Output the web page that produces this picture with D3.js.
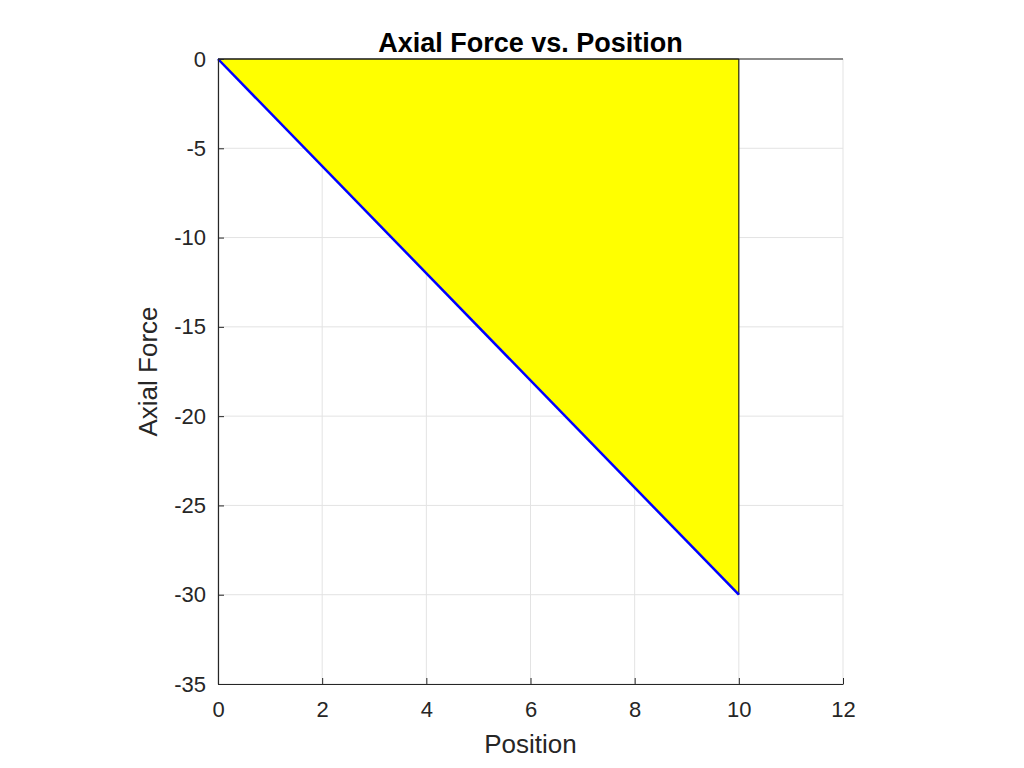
<!DOCTYPE html>
<html>
<head>
<meta charset="utf-8">
<script src="https://cdn.jsdelivr.net/npm/d3@7"></script>
<style>
  body { margin: 0; background: #fff; }
  svg text { font-family: "Liberation Sans", Arial, Helvetica, sans-serif; fill: #262626; }
  .tick-label { font-size: 22px; }
  .axis-title { font-size: 26px; }
  .chart-title { font-size: 27px; font-weight: bold; fill: #000; }
</style>
</head>
<body>
<div id="wrapper"></div>
<script>
// data
const position = [0, 10]
const axialForce = [0, -30]
const xTicks = [0, 2, 4, 6, 8, 10, 12]
const yTicks = [0, -5, -10, -15, -20, -25, -30, -35]

const dimensions = {
  width: 1024,
  height: 768,
  margin: { top: 59, right: 181, bottom: 84, left: 218 },
}
dimensions.boundedWidth = dimensions.width - dimensions.margin.left - dimensions.margin.right
dimensions.boundedHeight = dimensions.height - dimensions.margin.top - dimensions.margin.bottom

const svg = d3.select("#wrapper").append("svg")
    .attr("width", dimensions.width)
    .attr("height", dimensions.height)

const bounds = svg.append("g")
    .attr("transform", `translate(${dimensions.margin.left},${dimensions.margin.top})`)

const xScale = d3.scaleLinear()
  .domain([0, 12])
  .range([0, dimensions.boundedWidth])

const yScale = d3.scaleLinear()
  .domain([-35, 0])
  .range([dimensions.boundedHeight, 0])

// grid
bounds.append("g").selectAll("line")
  .data(xTicks)
  .join("line")
    .attr("x1", d => xScale(d)).attr("x2", d => xScale(d))
    .attr("y1", 0).attr("y2", dimensions.boundedHeight)
    .attr("stroke", "#e3e3e3").attr("stroke-width", 1)
bounds.append("g").selectAll("line")
  .data(yTicks)
  .join("line")
    .attr("y1", d => yScale(d)).attr("y2", d => yScale(d))
    .attr("x1", 0).attr("x2", dimensions.boundedWidth)
    .attr("stroke", "#e3e3e3").attr("stroke-width", 1)

// filled area between zero and the force line
const pts = position.map((p, i) => [p, axialForce[i]])
const fillPts = [[position[0], 0], ...pts, [position[position.length - 1], 0]]
bounds.append("path")
    .datum(fillPts)
    .attr("d", d3.line().x(d => xScale(d[0])).y(d => yScale(d[1])).curve(d3.curveLinearClosed))
    .attr("fill", "#ffff00")
    .attr("stroke", "#000")
    .attr("stroke-width", 1)

// force line
bounds.append("path")
    .datum(pts)
    .attr("d", d3.line().x(d => xScale(d[0])).y(d => yScale(d[1])))
    .attr("fill", "none")
    .attr("stroke", "#0000ff")
    .attr("stroke-width", 2.5)

// axes (hyphen minus like the original)
const fmt = d => String(d)
const xAxis = bounds.append("g")
    .attr("transform", `translate(0,${dimensions.boundedHeight})`)
    .call(d3.axisBottom(xScale).tickValues(xTicks).tickFormat(fmt).tickSizeInner(-6).tickSizeOuter(0).tickPadding(17))
const yAxis = bounds.append("g")
    .call(d3.axisLeft(yScale).tickValues(yTicks).tickFormat(fmt).tickSizeInner(-6).tickSizeOuter(0).tickPadding(12))

;[xAxis, yAxis].forEach(a => {
  a.select(".domain").attr("stroke", "#262626").attr("stroke-width", 1.2)
  a.selectAll(".tick line").attr("stroke", "#262626")
  a.selectAll(".tick text").attr("class", "tick-label").attr("fill", "#262626")
})

bounds.append("line")
    .attr("x1", 0).attr("x2", dimensions.boundedWidth)
    .attr("y1", 0).attr("y2", 0)
    .attr("stroke", "#262626").attr("stroke-width", 1.2)

// titles
bounds.append("text")
    .attr("class", "chart-title")
    .attr("x", dimensions.boundedWidth / 2)
    .attr("y", -7)
    .attr("text-anchor", "middle")
    .text("Axial Force vs. Position")

bounds.append("text")
    .attr("class", "axis-title")
    .attr("x", dimensions.boundedWidth / 2)
    .attr("y", dimensions.boundedHeight + 69)
    .attr("text-anchor", "middle")
    .text("Position")

bounds.append("text")
    .attr("class", "axis-title")
    .attr("transform", `translate(${-61},${dimensions.boundedHeight / 2}) rotate(-90)`)
    .attr("text-anchor", "middle")
    .text("Axial Force")
</script>
</body>
</html>
